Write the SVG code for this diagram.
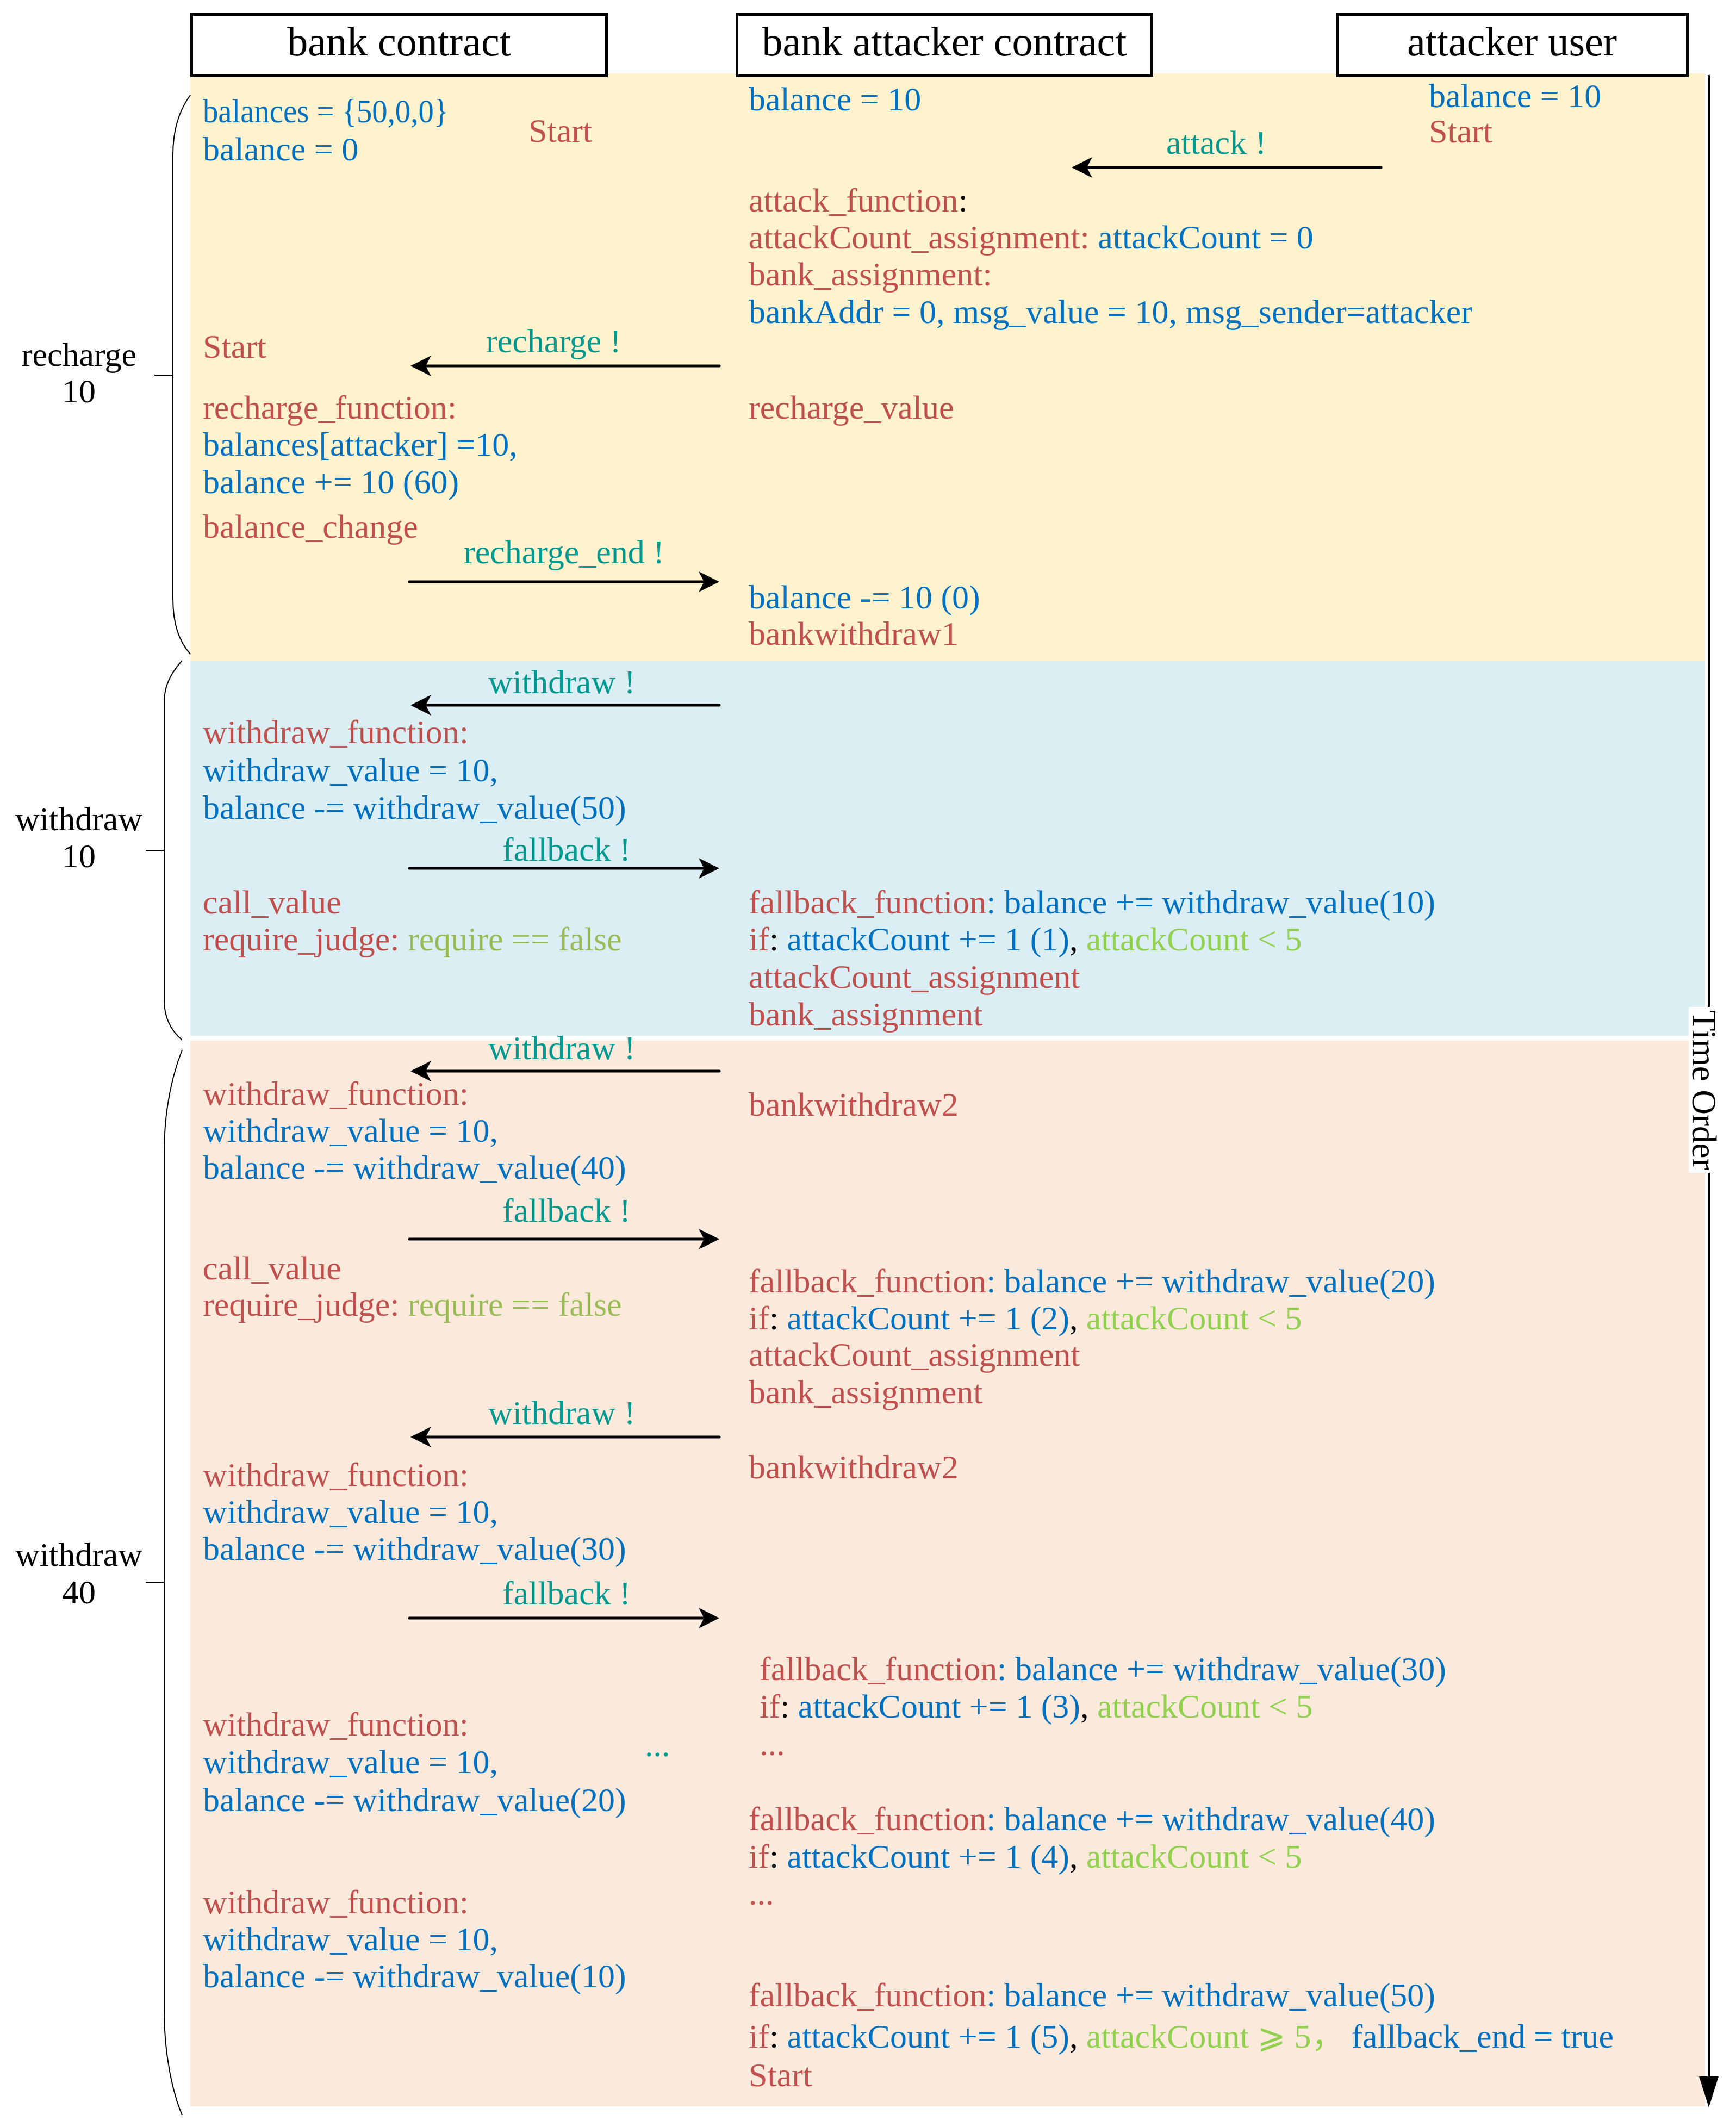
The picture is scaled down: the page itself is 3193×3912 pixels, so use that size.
<svg xmlns="http://www.w3.org/2000/svg" width="3193" height="3912" viewBox="0 0 3193 3912">
<style>
.t{font-family:'Liberation Serif','DejaVu Serif','DejaVu Sans','Noto Sans CJK SC',serif;font-size:62px}
.h{font-family:'Liberation Serif','DejaVu Serif',serif;font-size:76px;fill:#000;text-anchor:middle}
.lab{font-family:'Liberation Serif','DejaVu Serif',serif;font-size:62px;fill:#000;text-anchor:middle}
.b{fill:#0070C0}.r{fill:#C0504D}.g{fill:#00998F}.o{fill:#9BBB59}.l{fill:#92D050}.k{fill:#000}
.box{fill:#fff;stroke:#000;stroke-width:5}
.msg{stroke:#000;stroke-width:5;stroke-linecap:round;fill:none;marker-end:url(#ah)}
.br{fill:none;stroke:#000;stroke-width:2}
</style>
<defs>
<marker id="ah" markerUnits="userSpaceOnUse" viewBox="-40 -21 42 42" refX="-20" refY="0" markerWidth="42" markerHeight="42" orient="auto">
<path d="M0,0 L-38,-19 L-28,0 L-38,19 Z" fill="#000"/>
</marker>
</defs>

<g id="backgrounds">
<rect x="350" y="135" width="2786" height="1081" fill="#FFF2CC"/>
<rect x="350" y="1216" width="2786" height="689" fill="#DAEEF3"/>
<rect x="350" y="1914" width="2786" height="1960" fill="#FBE9DB"/>
</g>

<g id="lifeline-bank-contract">
<rect class="box" x="352.5" y="26.5" width="763" height="113"/>
<text class="h" x="734" y="102">bank contract</text>
</g>
<g id="lifeline-bank-attacker-contract">
<rect class="box" x="1355.5" y="26.5" width="763" height="113"/>
<text class="h" x="1737" y="102">bank attacker contract</text>
</g>
<g id="lifeline-attacker-user">
<rect class="box" x="2459.5" y="26.5" width="644" height="113"/>
<text class="h" x="2781" y="102">attacker user</text>
</g>

<g id="phase-recharge">
<path class="br" d="M350,175 C328,205 318,240 318,285 L318,1100 C318,1150 330,1180 350,1203"/>
<path class="br" d="M284,690 H318"/>
<text class="lab" x="145" y="673">recharge</text>
<text class="lab" x="145" y="740">10</text>
<text class="t b" x="373" y="225" textLength="452" lengthAdjust="spacingAndGlyphs">balances = {50,0,0}</text>
<text class="t b" x="373" y="295">balance = 0</text>
<text class="t r" x="972" y="261">Start</text>
<text class="t b" x="1377" y="203">balance = 10</text>
<text class="t b" x="2628" y="197">balance = 10</text>
<text class="t r" x="2628" y="262">Start</text>
<text class="t g" x="2145" y="283">attack !</text>
<text class="t r" x="1377" y="389">attack_function<tspan class="k">:</tspan></text>
<text class="t r" x="1377" y="457">attackCount_assignment: <tspan class="b">attackCount = 0</tspan></text>
<text class="t r" x="1377" y="525">bank_assignment:</text>
<text class="t b" x="1377" y="594">bankAddr = 0, msg_value = 10, msg_sender=attacker</text>
<text class="t r" x="373" y="658">Start</text>
<text class="t g" x="894" y="648">recharge !</text>
<text class="t r" x="373" y="770">recharge_function:</text>
<text class="t r" x="1377" y="770">recharge_value</text>
<text class="t b" x="373" y="838">balances[attacker] =10,</text>
<text class="t b" x="373" y="907">balance += 10 (60)</text>
<text class="t r" x="373" y="989">balance_change</text>
<text class="t g" x="853" y="1036">recharge_end !</text>
<text class="t b" x="1377" y="1119">balance -= 10 (0)</text>
<text class="t r" x="1377" y="1186">bankwithdraw1</text>
</g>

<g id="phase-withdraw-10">
<path class="br" d="M335,1215 C312,1240 302,1265 302,1290 L302,1840 C302,1870 314,1895 335,1913"/>
<path class="br" d="M268,1564 H302"/>
<text class="lab" x="145" y="1527">withdraw</text>
<text class="lab" x="145" y="1595">10</text>
<text class="t g" x="898" y="1275">withdraw !</text>
<text class="t r" x="373" y="1367">withdraw_function:</text>
<text class="t b" x="373" y="1437">withdraw_value = 10,</text>
<text class="t b" x="373" y="1506">balance -= withdraw_value(50)</text>
<text class="t g" x="924" y="1583">fallback !</text>
<text class="t r" x="373" y="1680">call_value</text>
<text class="t r" x="373" y="1748">require_judge: <tspan class="o">require == false</tspan></text>
<text class="t r" x="1377" y="1680">fallback_function<tspan class="b">: balance += withdraw_value(10)</tspan></text>
<text class="t r" x="1377" y="1748">if<tspan class="k">: </tspan><tspan class="b">attackCount += 1 (1)</tspan><tspan class="k">, </tspan><tspan class="l">attackCount &lt; 5</tspan></text>
<text class="t r" x="1377" y="1817">attackCount_assignment</text>
<text class="t r" x="1377" y="1886">bank_assignment</text>
</g>

<g id="phase-withdraw-40">
<path class="br" d="M335,1931 C312,1990 302,2050 302,2120 L302,3700 C302,3780 318,3850 335,3890"/>
<path class="br" d="M268,2910 H302"/>
<text class="lab" x="145" y="2880">withdraw</text>
<text class="lab" x="145" y="2949">40</text>
<text class="t g" x="898" y="1948">withdraw !</text>
<text class="t r" x="373" y="2032">withdraw_function:</text>
<text class="t b" x="373" y="2100">withdraw_value = 10,</text>
<text class="t b" x="373" y="2168">balance -= withdraw_value(40)</text>
<text class="t r" x="1377" y="2052">bankwithdraw2</text>
<text class="t g" x="924" y="2247">fallback !</text>
<text class="t r" x="373" y="2353">call_value</text>
<text class="t r" x="373" y="2420">require_judge: <tspan class="o">require == false</tspan></text>
<text class="t r" x="1377" y="2377">fallback_function<tspan class="b">: balance += withdraw_value(20)</tspan></text>
<text class="t r" x="1377" y="2445">if<tspan class="k">: </tspan><tspan class="b">attackCount += 1 (2)</tspan><tspan class="k">, </tspan><tspan class="l">attackCount &lt; 5</tspan></text>
<text class="t r" x="1377" y="2512">attackCount_assignment</text>
<text class="t r" x="1377" y="2581">bank_assignment</text>
<text class="t g" x="898" y="2619">withdraw !</text>
<text class="t r" x="1377" y="2719">bankwithdraw2</text>
<text class="t r" x="373" y="2733">withdraw_function:</text>
<text class="t b" x="373" y="2801">withdraw_value = 10,</text>
<text class="t b" x="373" y="2869">balance -= withdraw_value(30)</text>
<text class="t g" x="924" y="2951">fallback !</text>
<text class="t r" x="1397" y="3090">fallback_function<tspan class="b">: balance += withdraw_value(30)</tspan></text>
<text class="t r" x="1397" y="3159">if<tspan class="k">: </tspan><tspan class="b">attackCount += 1 (3)</tspan><tspan class="k">, </tspan><tspan class="l">attackCount &lt; 5</tspan></text>
<text class="t r" x="1397" y="3228">...</text>
<text class="t r" x="373" y="3192">withdraw_function:</text>
<text class="t b" x="373" y="3261">withdraw_value = 10,</text>
<text class="t b" x="373" y="3331">balance -= withdraw_value(20)</text>
<text class="t g" x="1186" y="3230">...</text>
<text class="t r" x="1377" y="3366">fallback_function<tspan class="b">: balance += withdraw_value(40)</tspan></text>
<text class="t r" x="1377" y="3435">if<tspan class="k">: </tspan><tspan class="b">attackCount += 1 (4)</tspan><tspan class="k">, </tspan><tspan class="l">attackCount &lt; 5</tspan></text>
<text class="t r" x="1377" y="3503">...</text>
<text class="t r" x="373" y="3519">withdraw_function:</text>
<text class="t b" x="373" y="3587">withdraw_value = 10,</text>
<text class="t b" x="373" y="3655">balance -= withdraw_value(10)</text>
<text class="t r" x="1377" y="3690">fallback_function<tspan class="b">: balance += withdraw_value(50)</tspan></text>
<text class="t r" x="1377" y="3766">if<tspan class="k">: </tspan><tspan class="b">attackCount += 1 (5)</tspan><tspan class="k">, </tspan><tspan class="l">attackCount ⩾ 5，</tspan><tspan class="b" dx="12">fallback_end = true</tspan></text>
<text class="t r" x="1377" y="3837">Start</text>
</g>

<g id="connectors">
<line class="msg" x1="2540" y1="308" x2="1991" y2="308"/>
<line class="msg" x1="1323" y1="673" x2="775" y2="673"/>
<line class="msg" x1="753" y1="1070" x2="1303" y2="1070"/>
<line class="msg" x1="1323" y1="1297" x2="775" y2="1297"/>
<line class="msg" x1="753" y1="1597" x2="1303" y2="1597"/>
<line class="msg" x1="1323" y1="1970" x2="775" y2="1970"/>
<line class="msg" x1="753" y1="2279" x2="1303" y2="2279"/>
<line class="msg" x1="1323" y1="2643" x2="775" y2="2643"/>
<line class="msg" x1="753" y1="2976" x2="1303" y2="2976"/>
</g>

<g id="time-order">
<line x1="3143" y1="138" x2="3143" y2="3830" stroke="#000" stroke-width="4"/>
<polygon points="3125,3819 3161,3819 3143,3876" fill="#000"/>
<rect x="3106" y="1852" width="62" height="305" fill="#fff"/>
<text class="lab" style="font-size:63px;text-anchor:start" transform="translate(3113,1858) rotate(90)">Time Order</text>
</g>
</svg>
